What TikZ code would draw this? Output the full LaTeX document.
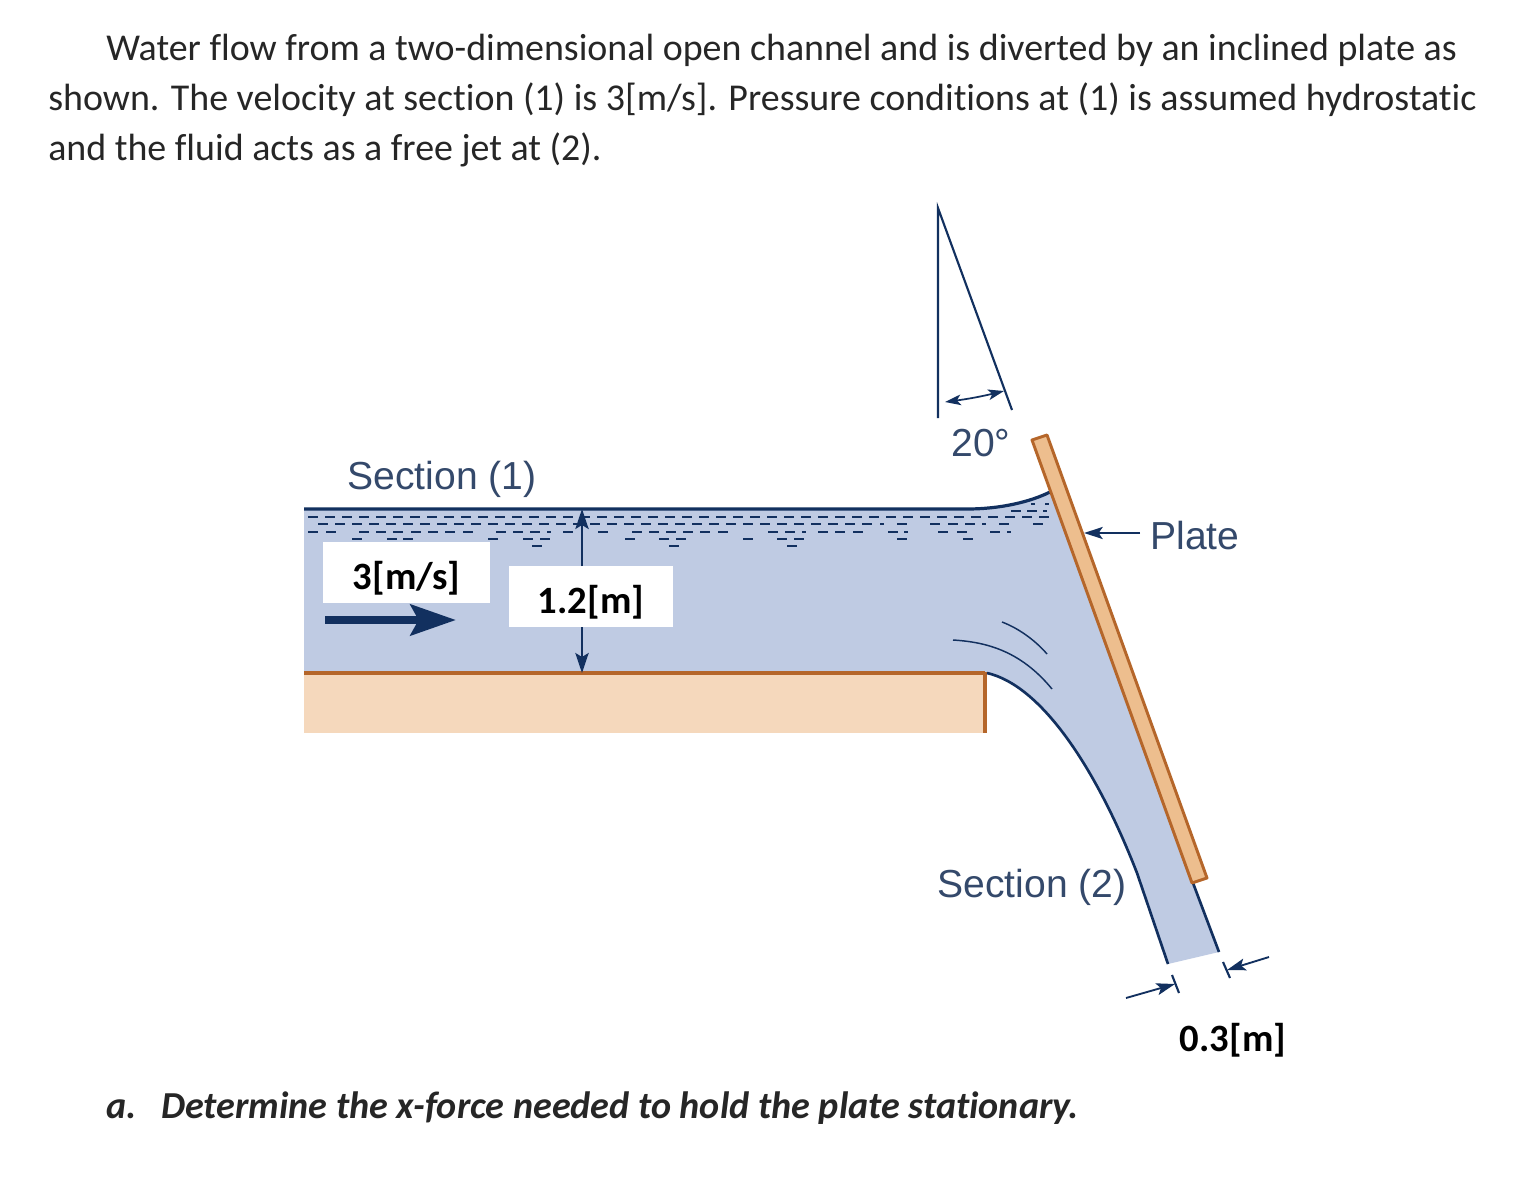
\documentclass[tikz,border=0pt]{standalone}
\usepackage{fontspec}
\setmainfont[Ligatures=NoCommon]{Carlito}
\newfontfamily\figfont{Liberation Sans}
\usetikzlibrary{arrows.meta}
\definecolor{water}{HTML}{BFCBE3}
\definecolor{navy}{HTML}{12305F}
\definecolor{brownline}{HTML}{B5662A}
\definecolor{ground}{HTML}{F5D8BC}
\definecolor{platefill}{HTML}{EDBE8E}
\definecolor{labelcol}{HTML}{34496B}
\tikzset{
  body/.style={anchor=base west,inner sep=0,font=\fontsize{28.45}{32}\selectfont,text=black!85},
  question/.style={anchor=base west,inner sep=0,font=\fontsize{28.6}{32}\selectfont\bfseries\itshape,text=black!85},
  figlabel/.style={inner sep=0,font=\figfont\fontsize{29.3}{32}\selectfont,text=labelcol},
  boxlabel/.style={fill=white,inner sep=0,font=\fontsize{29}{32}\selectfont\bfseries,text=black},
  dimlabel/.style={inner sep=0,font=\fontsize{29}{32}\selectfont\bfseries,text=black},
  navyline/.style={draw=navy,line width=1.6pt},
  thinline/.style={draw=navy,line width=1.1pt},
  dashrow/.style={draw=navy,line width=1.4pt},
  dimarrow/.style={draw=navy,line width=1.4pt,-{Stealth[length=14pt,width=9pt,inset=3pt]}},
  dimtwo/.style={draw=navy,line width=1.3pt,{Stealth[length=12pt,width=8pt,inset=3pt]}-{Stealth[length=12pt,width=8pt,inset=3pt]}},
}
\begin{document}
\begin{tikzpicture}[x=0.75pt,y=-0.75pt]
\useasboundingbox (0,0) rectangle (1528,1188);
\fill[white] (0,0) rectangle (1528,1188);

\node[body] (l1) at (106,61) {Water flow from a two-dimensional open channel and is diverted by an inclined plate as};
\node[body] (l2) at (48,111) {shown. The velocity at section (1) is 3[m/s]. Pressure conditions at (1) is assumed hydrostatic};
\node[body] (l3) at (48,161) {and the fluid acts as a free jet at (2).};
\node[question] (qa) at (106,1118) {a.};
\node[question] (qt) at (161,1118) {Determine the x-force needed to hold the plate stationary.};

% ground and water
\fill[ground] (304,673) rectangle (985,733);
\fill[water] (304,509) -- (967,509) .. controls (1000,509) and (1030,502) .. (1050,492)
  -- (1193,883) -- (1219,952) -- (1168,964) -- (1137,873)
  .. controls (1095,765) and (1040,685) .. (987,673) -- (304,673) -- cycle;

% dashes
\foreach \xx in {308,325,...,1040} \draw[dashrow] (\xx,517) -- ++(10,0);
\foreach \xx in {318,335,...,870,897,930,948,965,999,1033} \draw[dashrow] (\xx,524) -- ++(10,0);
\foreach \xx in {308,326,359,376,393,411,428,445,463,496,513,530,563,598,632,649,666,683,700,718,
  768,785,818,835,853,888,938,957,990} \draw[dashrow] (\xx,532) -- ++(10,0);
\foreach \xx in {547,802,904,1007} \draw[dashrow] (\xx,532) -- ++(4,0);
\draw[dashrow] (880,524) -- ++(4,0);
\draw[dashrow] (982,524) -- ++(4,0);
\foreach \xx in {352,387,403,488,523,540,625,659,676,743,777,794,897,963} \draw[dashrow] (\xx,539) -- ++(10,0);
\foreach \xx in {532,669,787} \draw[dashrow] (\xx,546) -- ++(10,0);
\foreach \xx in {1011,1027} \draw[dashrow] (\xx,511) -- ++(10,0);
\draw[dashrow] (1043,511) -- ++(4,0);
\foreach \xx in {1031,1045} \draw[dashrow] (\xx,504) -- ++(4,0);

% surface and channel
\draw[navy,line width=2.4pt] (304,509) -- (967,509) .. controls (1000,509) and (1030,502) .. (1050,492);
\draw[brownline,line width=2.6pt] (304,673) -- (985,673);
\draw[brownline,line width=2.6pt] (985,672) -- (985,733);

% streamlines
\draw[thinline] (953,640) .. controls (985,642) and (1020,650) .. (1052,689);
\draw[thinline] (1002,622) .. controls (1018,628) and (1035,640) .. (1047,654);

% jet edges
\draw[navy,line width=2pt] (987,673) .. controls (1040,685) and (1095,765) .. (1137,873) -- (1168,964);
\draw[navy,line width=2pt] (1193,883) -- (1219,952);

% plate
\draw[brownline,fill=platefill,line width=2.2pt,line join=round] (1032,440) -- (1047,435) -- (1207,878) -- (1192,883) -- cycle;

% angle
\coordinate (apex) at (938,208);
\coordinate (vbase) at (938,418);
\coordinate (sbase) at (1012,410);
\coordinate (angl) at (945,402);
\coordinate (angr) at (1004,391);
\draw[navyline] (vbase) -- (apex) -- (sbase);
\draw[dimtwo] (angl) to[bend right=3] (angr);
\node[figlabel] (deg) at (981,443) {20°};

% labels
\node[figlabel] (sec1) at (442,479) {Section (1)};
\node[figlabel] (sec2) at (1032,887) {Section (2)};
\node[figlabel] (plate) at (1195,536) {Plate};
\coordinate (platept) at (1084,533);
\coordinate (platestart) at (1140,533);
\draw[dimarrow] (platestart) -- (platept);

% velocity
\node[boxlabel,minimum width=125.25pt,minimum height=45.75pt] (v) at (406.5,572.5) {\raisebox{-12.5pt}[20pt][20pt]{3[m/s]}};
\coordinate (va) at (325,620);
\coordinate (vb) at (456,620);
\draw[navy,line width=6.2pt,-{Stealth[length=34pt,width=23pt,inset=6pt]}] (va) -- (vb);

% depth
\coordinate (dtop) at (582,509);
\coordinate (dbot) at (582,673);
\node[boxlabel,minimum width=123pt,minimum height=45.75pt] (h) at (591,596.5) {\raisebox{-12.5pt}[20pt][20pt]{1.2[m]}};
\draw[draw=navy,line width=1.7pt,-{Stealth[length=15pt,width=10pt,inset=3pt]}] (582,566) -- (dtop);
\draw[draw=navy,line width=1.7pt,-{Stealth[length=15pt,width=10pt,inset=3pt]}] (582,627) -- (dbot);

% outlet width
\coordinate (t1a) at (1172,975);
\coordinate (t1b) at (1179,993);
\coordinate (t2a) at (1223,962);
\coordinate (t2b) at (1230,978);
\coordinate (a1s) at (1126,998);
\coordinate (a1e) at (1175,984);
\coordinate (a2s) at (1269,957);
\coordinate (a2e) at (1227,970);
\draw[navyline] (t1a) -- (t1b);
\draw[navyline] (t2a) -- (t2b);
\draw[dimarrow] (a1s) -- (a1e);
\draw[dimarrow] (a2s) -- (a2e);
\node[dimlabel] (w) at (1233,1040) {0.3[m]};
\end{tikzpicture}
\end{document}
